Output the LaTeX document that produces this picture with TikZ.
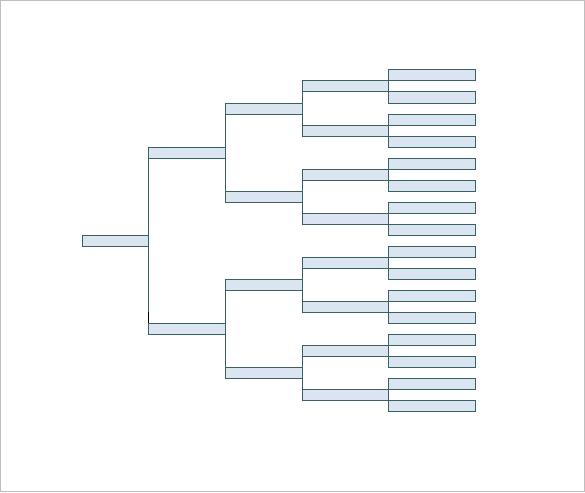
\documentclass[tikz,border=0pt]{standalone}
\usepackage{tikz}
\definecolor{boxfill}{RGB}{219,229,241}
\definecolor{boxline}{RGB}{59,98,98}
\definecolor{frame}{RGB}{190,190,190}
\begin{document}
\begin{tikzpicture}[x=1pt,y=-1pt,
  box/.style={draw=boxline,fill=boxfill,line width=1pt,inner sep=0pt,minimum height=11pt,anchor=west,rectangle},
  link/.style={draw=boxline,line width=1pt}]
\useasboundingbox (0,0) rectangle (585,492);
\draw[frame,line width=1.2pt] (0.6,0.6) rectangle (584.4,491.4);
% generation 4
\foreach \i in {0,...,15}{
  \node[box,minimum width=87pt] (g4-\i) at (388,{75.5+22*\i}) {};
}
% generation 3
\foreach \i in {0,...,7}{
  \node[box,minimum width=86pt] (g3-\i) at (302,{86.5+44*\i}) {};
}
% generation 2
\foreach \i in {0,...,3}{
  \node[box,minimum width=77pt] (g2-\i) at (225,{108.5+88*\i}) {};
}
% generation 1
\foreach \i in {0,1}{
  \node[box,minimum width=77pt] (g1-\i) at (148,{152.5+176*\i}) {};
}
\node[box,minimum width=66pt] (root) at (82,240.5) {};
% connectors
\foreach \i [evaluate=\i as \a using int(2*\i), evaluate=\i as \b using int(2*\i+1)] in {0,...,7}{
  \draw[link] (g4-\a.north west) -- (g4-\b.south west);
}
\foreach \i [evaluate=\i as \a using int(2*\i), evaluate=\i as \b using int(2*\i+1)] in {0,...,3}{
  \draw[link] (g3-\a.north west) -- (g3-\b.south west);
}
\foreach \i [evaluate=\i as \a using int(2*\i), evaluate=\i as \b using int(2*\i+1)] in {0,1}{
  \draw[link] (g2-\a.north west) -- (g2-\b.south west);
}
\draw[link] (g1-0.north west) -- (g1-1.south west);
\coordinate (mark) at (148,312);
\draw[black,line width=1pt] (mark) -- (g1-1.north west);
\end{tikzpicture}
\end{document}
